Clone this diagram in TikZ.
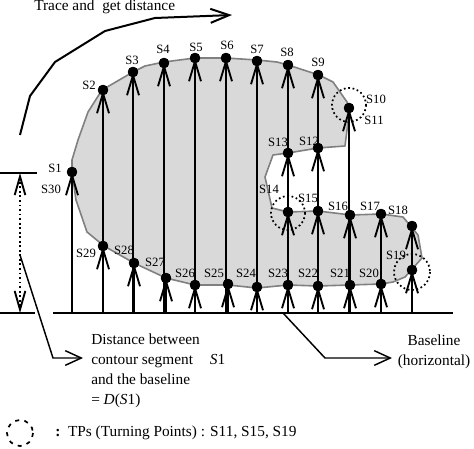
\documentclass[tikz,border=0pt]{standalone}
\usepackage{fontspec}
\setmainfont{Liberation Serif}
\usetikzlibrary{arrows.meta}

\begin{document}
\begin{tikzpicture}[x=0.75pt,y=-0.75pt,
  pt/.style={circle,fill=black,inner sep=0pt,minimum size=7.8pt},
  lbl/.style={font=\fontsize{9.5}{10}\selectfont},
  txt/.style={font=\fontsize{11.5}{15}\selectfont,align=left},
  uparr/.style={line width=1.4pt,-{Straight Barb[length=15pt,width=9pt]}},
  lead/.style={line width=1.1pt,-{Straight Barb[length=12pt,width=11pt]}},
  tp/.style={dotted,line width=1.3pt}]
\tikzstyle{every node}+=[inner sep=0pt]
\useasboundingbox (0,0) rectangle (474,449);
\fill [black!15] (72,160) -- (78,140) -- (88,112) -- (102,90) -- (133,72) -- (145,66) -- (164,62) -- (195,58) -- (226,58) -- (257,60) -- (277,62) -- (288,65) -- (319,75) -- (333,82) -- (347,102) -- (350,110) -- (348,122) -- (345,146) -- (318,148) -- (288,153) -- (273,155) -- (265,177) -- (272,208) -- (288,212) -- (318,211) -- (351,215) -- (381,214) -- (403,217) -- (418,235) -- (422,258) -- (405,277) -- (393,282) -- (381,284) -- (350,285) -- (318,286) -- (288,285) -- (257,288) -- (228,285) -- (195,285) -- (166,278) -- (134,263) -- (104,246) -- (87,232) -- (76,200) -- (72,172) -- cycle;
\draw [gray,line width=1.2pt,line join=round] (72,160) -- (78,140) -- (88,112) -- (102,90) -- (133,72) -- (145,66) -- (164,62) -- (195,58) -- (226,58) -- (257,60) -- (277,62) -- (288,65) -- (319,75) -- (333,82) -- (347,102) -- (350,110) -- (348,122) -- (345,146) -- (318,148) -- (288,153) -- (273,155) -- (265,177) -- (272,208) -- (288,212) -- (318,211) -- (351,215) -- (381,214) -- (403,217) -- (418,235) -- (422,258) -- (405,277) -- (393,282) -- (381,284) -- (350,285) -- (318,286) -- (288,285) -- (257,288) -- (228,285) -- (195,285) -- (166,278) -- (134,263) -- (104,246) -- (87,232) -- (76,200) -- (72,172) -- cycle;
\coordinate (bl) at (53,313);
\coordinate (br) at (453,313);
\draw [line width=2.2pt] (bl) -- (br);
\node [pt] (s1) at (72,172) {};
\node [pt] (s2) at (103,90) {};
\node [pt] (s3) at (133,72) {};
\node [pt] (s4) at (164,63) {};
\node [pt] (s5) at (195,58) {};
\node [pt] (s6) at (226,58) {};
\node [pt] (s7) at (257,61) {};
\node [pt] (s8) at (288,65) {};
\node [pt] (s9) at (318,75) {};
\node [pt] (s10) at (349,108) {};
\node [pt] (s12) at (318,148) {};
\node [pt] (s13) at (288,153) {};
\node [pt] (s14) at (288,212) {};
\node [pt] (s15) at (318,211) {};
\node [pt] (s16) at (350,215) {};
\node [pt] (s17) at (381,214) {};
\node [pt] (s18) at (412,226) {};
\node [pt] (s19) at (412,270) {};
\node [pt] (s20) at (381,284) {};
\node [pt] (s21) at (350,285) {};
\node [pt] (s22) at (318,286) {};
\node [pt] (s23) at (288,285) {};
\node [pt] (s24) at (257,287) {};
\node [pt] (s25) at (228,284) {};
\node [pt] (s26) at (195,285) {};
\node [pt] (s27) at (166,278) {};
\node [pt] (s28) at (134,263) {};
\node [pt] (s29) at (103,246) {};
\foreach \p in {1,2,3,4,5,6,7,8,9,10,12,13,14,15,16,17,18,19,20,21,22,23,24,25,26,27,28,29}
  \draw [uparr] (s\p |- bl) -- (s\p.center);
\foreach \p in {1,2,3,4,5,6,7,8,9,10,12,13,14,15,16,17,18,19,20,21,22,23,24,25,26,27,28,29}
  \fill (s\p) circle (3.9pt);
\draw [tp] (349,105) circle (17);
\draw [tp] (288,213) circle (17);
\draw [tp] (412,272) circle (18);
\node [lbl] (l1) at (55,168) {S1};
\node [lbl] (l30) at (51,189) {S30};
\node [lbl] (l2) at (89,85) {S2};
\node [lbl] (l3) at (132,60) {S3};
\node [lbl] (l4) at (163,49) {S4};
\node [lbl] (l5) at (196,47) {S5};
\node [lbl] (l6) at (227,45) {S6};
\node [lbl] (l7) at (257,49) {S7};
\node [lbl] (l8) at (287,52) {S8};
\node [lbl] (l9) at (318,62) {S9};
\node [lbl] (l10) at (376,99) {S10};
\node [lbl] (l11) at (374,120) {S11};
\node [lbl] (l12) at (309,141) {S12};
\node [lbl] (l13) at (278,142) {S13};
\node [lbl] (l14) at (269,189) {S14};
\node [lbl] (l15) at (308,198) {S15};
\node [lbl] (l16) at (338,206) {S16};
\node [lbl] (l17) at (370,206) {S17};
\node [lbl] (l18) at (398,210) {S18};
\node [lbl] (l19) at (396,255) {S19};
\node [lbl] (l20) at (369,273) {S20};
\node [lbl] (l21) at (340,273) {S21};
\node [lbl] (l22) at (308,273) {S22};
\node [lbl] (l23) at (278,273) {S23};
\node [lbl] (l24) at (246,273) {S24};
\node [lbl] (l25) at (214,273) {S25};
\node [lbl] (l26) at (185,273) {S26};
\node [lbl] (l27) at (155,262) {S27};
\node [lbl] (l28) at (124,250) {S28};
\node [lbl] (l29) at (86,253) {S29};
\coordinate (dt) at (20,173);
\coordinate (db) at (20,313);
\draw [line width=1.4pt] (0,173) -- (37,173);
\draw [line width=1.4pt] (0,313) -- (35,313);
\draw [dotted,line width=1.4pt,{Straight Barb[length=14pt,width=8pt]}-{Straight Barb[length=14pt,width=8pt]}] (dt) -- (db);
\node [txt,anchor=base west] (trace) at (34,11) {Trace and \ get distance};
\coordinate (t0) at (20,135);
\coordinate (t5) at (232,15);
\draw [line width=1.5pt,-{Straight Barb[length=14pt,width=10.5pt]}] (t0) -- (30,96) -- (55,62) -- (105,31) -- (155,18) -- (t5);
\node [txt,anchor=north west] (dist) at (91,334) {Distance between\\contour segment\hspace{1.1em}\textit{S}1\\and the baseline\\= \textit{D}(\textit{S}1)};
\node [txt,align=center] (base) at (434,352) {Baseline\\(horizontal)};
\coordinate (d0) at (20,255);
\coordinate (d1) at (53,358);
\coordinate (d2) at (83,358);
\draw [lead] (d0) -- (d1) -- (d2);
\coordinate (b0) at (283,313);
\coordinate (b1) at (325,358);
\coordinate (b2) at (392,358);
\draw [lead] (b0) -- (b1) -- (b2);
\draw [dash pattern=on 3pt off 4pt,line width=1.3pt] (20,433) circle (13);
\node [txt,anchor=west] (legend) at (55,433) {\textbf{:}\ \ TPs (Turning Points) : S11, S15, S19};
\end{tikzpicture}
\end{document}
